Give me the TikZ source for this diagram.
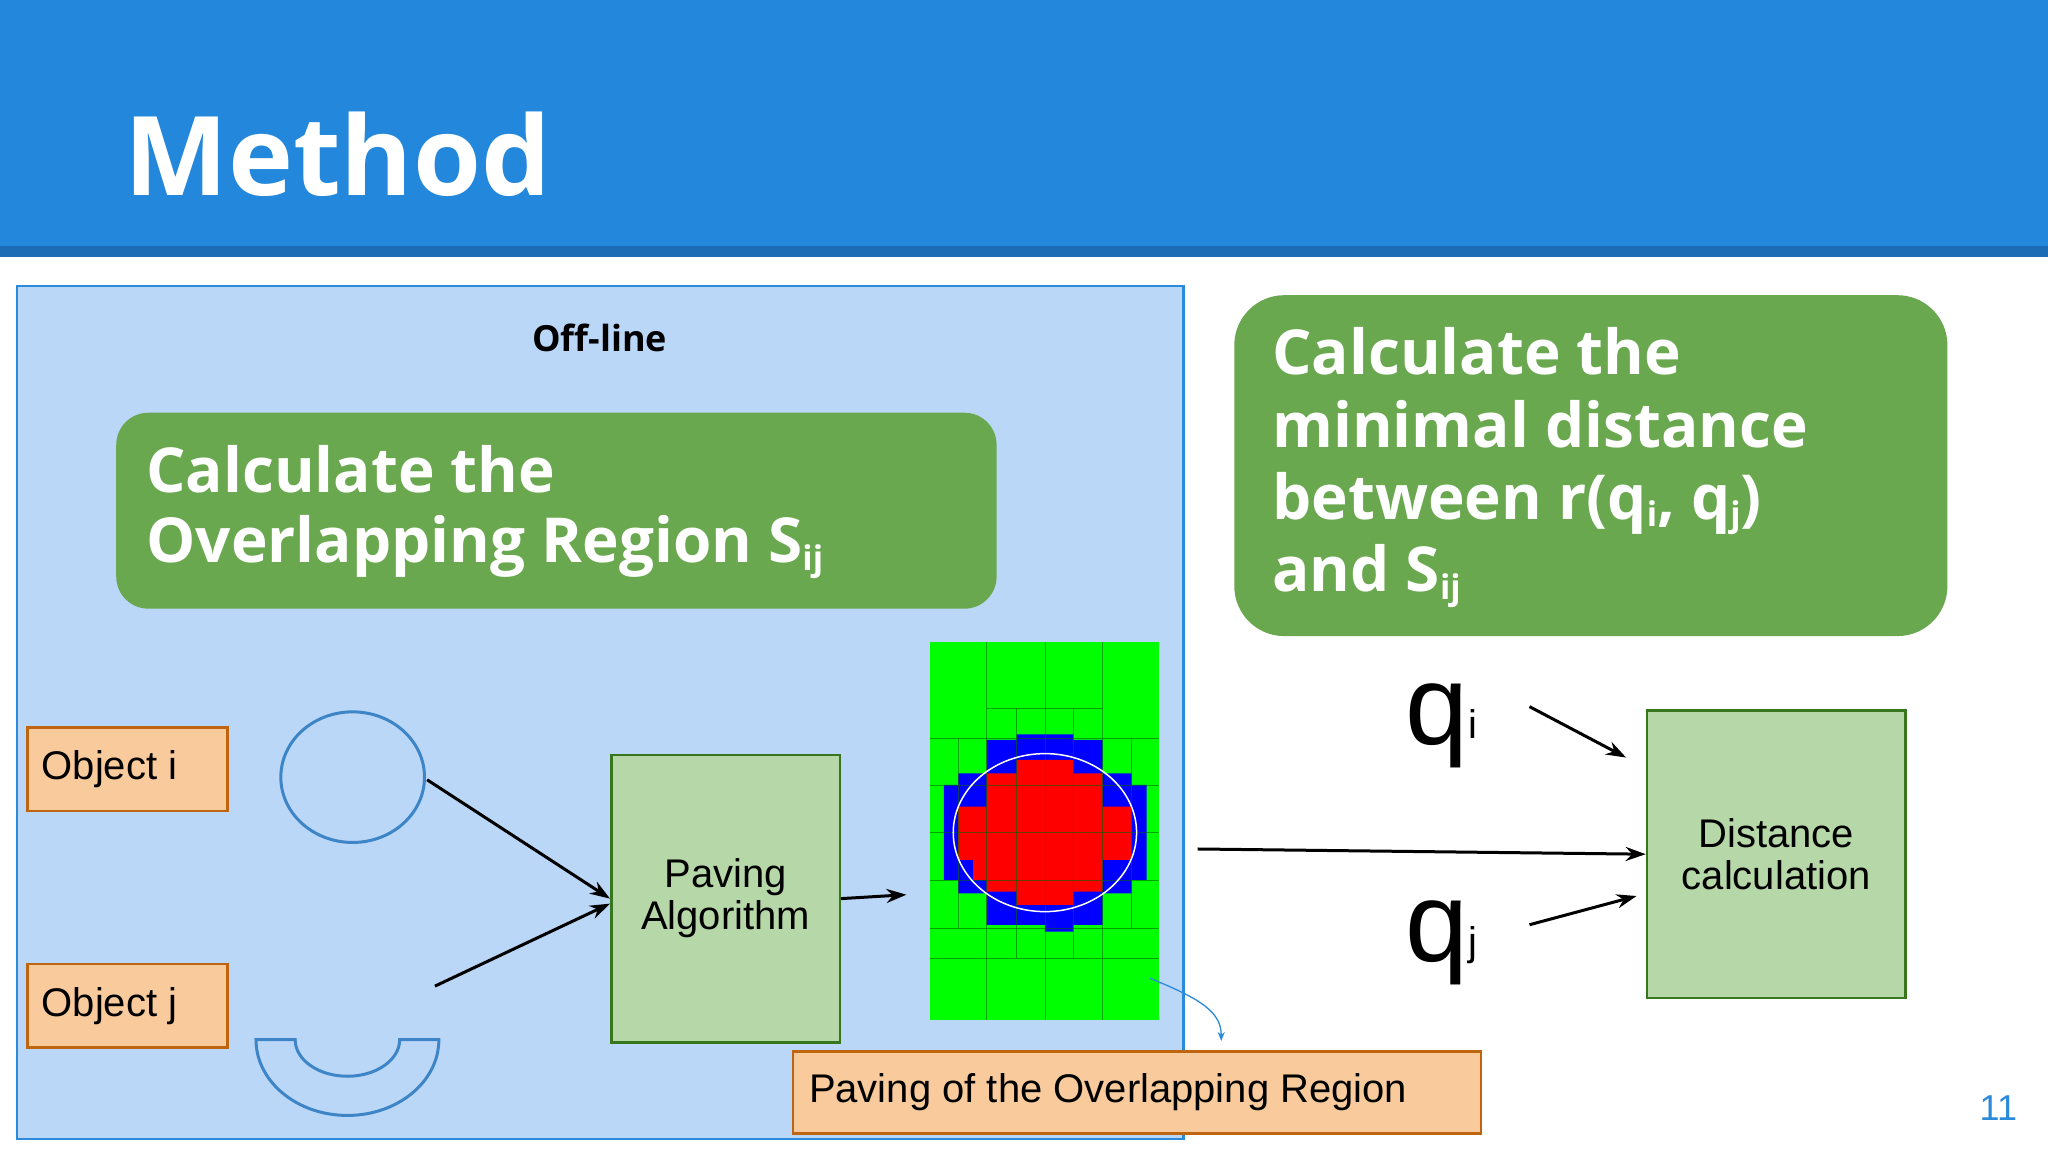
\documentclass[tikz,border=0pt]{standalone}
\usepackage{fontspec}
\setmainfont{Liberation Sans}
\newfontfamily\headf{Open Sans}
\usetikzlibrary{arrows.meta}
\definecolor{band}{HTML}{2387DB}
\definecolor{bandd}{HTML}{1B6CB5}
\definecolor{panel}{HTML}{BBD7F7}
\definecolor{panelb}{HTML}{2B8AD9}
\definecolor{gbox}{HTML}{6AA84F}
\definecolor{obox}{HTML}{F9CB9C}
\definecolor{oboxb}{HTML}{C0650F}
\definecolor{lgbox}{HTML}{B6D7A8}
\definecolor{lgboxb}{HTML}{38761D}
\definecolor{shp}{HTML}{3D85C6}
\newcommand{\fsz}[1]{\fontsize{#1pt}{1.2\dimexpr#1pt\relax}\selectfont}
\newcommand{\sbs}[1]{\raisebox{-0.12em}{\fontsize{34pt}{34pt}\selectfont #1}}
\begin{document}
\begin{tikzpicture}[x=1.306pt,y=-1.306pt,
  hd/.style={font=\headf\bfseries\fsz{62}, text=white, align=left, anchor=west, inner sep=0},
  ob/.style={draw=oboxb, line width=2.6pt, fill=obox},
  lg/.style={draw=lgboxb, line width=2.6pt, fill=lgbox},
  body/.style={font=\fsz{40}, align=center},
  arr/.style={line width=3pt, -{Stealth[length=20pt,width=14pt]}}]
\useasboundingbox (0,0) rectangle (1568,882);
\fill[white] (0,0) rectangle (1568,882);
\fill[band] (0,0) rectangle (1568,189);
\fill[bandd] (0,188) rectangle (1568,197);
\node[font=\headf\bfseries\fsz{110}, text=white, anchor=base west, inner sep=0] (title) at (95,150) {Method};
% panel
\draw[panelb, line width=2.6pt, fill=panel] (13,219) rectangle (906,872);
\node[font=\headf\bfseries\fsz{36}, anchor=base] (offl) at (459,269) {Off-line};
\fill[gbox, rounded corners=32pt] (89,316) rectangle (763,466);
\node[hd] (h1) at (112,392) {Calculate the\\[-4pt]Overlapping Region S\sbs{ij}};
\fill[gbox, rounded corners=50pt] (945,226) rectangle (1491,487);
\node[hd] (h2) at (974,358) {Calculate the\\[-2pt]minimal distance\\[-2pt]between r(q\sbs{i}, q\sbs{j})\\[-2pt]and S\sbs{ij}};
% objects
\node[ob, minimum width=153*1.306pt, minimum height=64*1.306pt, anchor=north west, font=\fsz{40}] (oi) at (20,556) {};
\node[font=\fsz{40}, anchor=west] at (oi.west) [xshift=12pt] {Object i};
\node[ob, minimum width=153*1.306pt, minimum height=64*1.306pt, anchor=north west] (oj) at (20,737) {};
\node[font=\fsz{40}, anchor=west] at (oj.west) [xshift=12pt] {Object j};
\draw[shp, line width=3pt] (270,595) ellipse [x radius=55, y radius=50];
\draw[shp, line width=3pt] (196,796) arc[start angle=180,end angle=0,x radius=70,y radius=58] -- (306,796) arc[start angle=0,end angle=180,x radius=40,y radius=28] -- cycle;
\coordinate (ci) at (327,597);
\coordinate (cj) at (333,755);
% paving
\node[lg, minimum width=175*1.306pt, minimum height=220*1.306pt, anchor=north west] (pav) at (467,577) {};
\node[body] at (pav.center) {Paving\\[-6pt]Algorithm};
\draw[arr] (ci) -- (pav.west);
\draw[arr] (cj) -- ([yshift=-5pt]pav.west);
\coordinate (gridin) at (694,685);
\draw[arr] (pav.east) -- (gridin);
% grid
\begin{scope}[shift={(704.3,482.3)}, x=0.3333pt, y=-0.3333pt]
\fill[green] (30,35) rectangle (717,1170);
\fill[blue] (290,313) -- (460,313) -- (460,330) -- (548,330) -- (548,430) -- (635,430) -- (635,465) -- (680,465) -- (680,750) -- (635,750) -- (635,790) -- (548,790) -- (548,885) -- (460,885) -- (460,905) -- (375,905) -- (375,885) -- (200,885) -- (200,790) -- (115,790) -- (115,750) -- (72,750) -- (72,465) -- (115,465) -- (115,430) -- (200,430) -- (200,330) -- (290,330) -- cycle;
\fill[red] (290,390) -- (460,390) -- (460,430) -- (548,430) -- (548,530) -- (635,530) -- (635,690) -- (548,690) -- (548,785) -- (460,785) -- (460,825) -- (290,825) -- (290,785) -- (200,785) -- (200,750) -- (160,750) -- (160,690) -- (115,690) -- (115,530) -- (200,530) -- (200,430) -- (290,430) -- cycle;
\begin{scope}[green!40!black, line width=0.5pt, opacity=0.6]
\foreach \x in {200,375,548} \draw (\x,35) -- (\x,1170);
\foreach \y in {325,465,608,750,895} \draw (30,\y) -- (717,\y);
\draw (30,985) -- (717,985); \draw (200,235) -- (548,235);
\foreach \x in {115,635} \draw (\x,325) -- (\x,895);
\foreach \x in {290,460} \draw (\x,235) -- (\x,985);
\end{scope}
\draw[white, line width=1.5pt] (375,608) ellipse [x radius=275, y radius=237];
\coordinate (gs) at (690,1045);
\end{scope}
% distance
\node[lg, minimum width=198*1.306pt, minimum height=220*1.306pt, anchor=north west] (dist) at (1260,543) {};
\node[body] at (dist.center) {Distance\\[-6pt]calculation};
\coordinate (ga) at (917,650);
\draw[arr] (ga) -- (dist.west);
\node[font=\fsz{113}, anchor=base west, inner sep=0] (qi) at (1076,570) {q\raisebox{0.05em}{\fsz{40}i}};
\node[font=\fsz{113}, anchor=base west, inner sep=0] (qj) at (1076,736) {q\raisebox{0.05em}{\fsz{40}j}};
\coordinate (qia) at (1171,541);
\coordinate (qja) at (1171,708);
\draw[arr] (qia) -- (1245,580);
\draw[arr] (qja) -- (1253,686);
% paving label
\node[ob, minimum width=527*1.306pt, minimum height=63*1.306pt, anchor=north west] (pl) at (606,804) {};
\node[font=\fsz{40}, anchor=west] at (pl.west) [xshift=14pt] {Paving of the Overlapping Region};
\draw[panelb, line width=1.3pt, -{Stealth[length=9pt,width=7pt]}] (gs) .. controls (920,765) and (935,775) .. (935,797);
\node[font=\fsz{36}, text=panelb, anchor=base] (pg) at (1530,858) {11};
\end{tikzpicture}
\end{document}
